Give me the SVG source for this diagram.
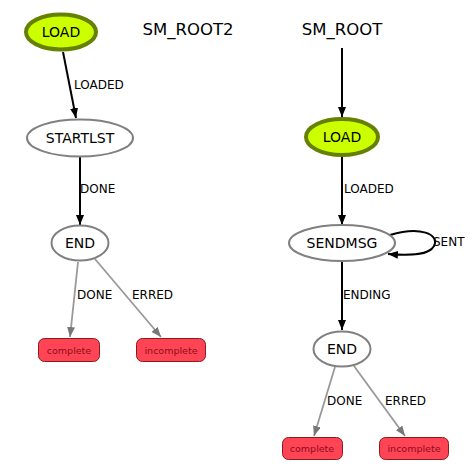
<svg xmlns="http://www.w3.org/2000/svg" width="474" height="475" viewBox="0 0 474 475">
<defs>
<style>
text{font-family:"DejaVu Sans","Liberation Sans",sans-serif;text-anchor:middle;fill:#000}
.title{font-size:16.5px}
.nl{font-size:14px}
.el{font-size:12px;text-anchor:start}
.fl{font-size:9.5px;fill:#8b0f1a}
.load{fill:#ccff00;stroke:#668000;stroke-width:4}
.st{fill:#fff;stroke:#808080;stroke-width:2}
.fin{fill:#ff4455;stroke:#8b1a1a;stroke-width:1}
.e{fill:none;stroke:#000;stroke-width:2}
.g{fill:none;stroke:#999;stroke-width:1.8}
</style>
<marker id="ab" viewBox="0 0 10 8" refX="10" refY="4" markerWidth="10" markerHeight="8" markerUnits="userSpaceOnUse" orient="auto"><path d="M0,0L10,4L0,8z" fill="#000"/></marker>
<marker id="ag" viewBox="0 0 10 8" refX="10" refY="4" markerWidth="10" markerHeight="8" markerUnits="userSpaceOnUse" orient="auto"><path d="M0,0L10,4L0,8z" fill="#777"/></marker>
</defs>
<g id="connectors">
<path class="e" d="M63,52L76,118" marker-end="url(#ab)"/>
<path class="e" d="M80,157L80,225" marker-end="url(#ab)"/>
<path class="g" d="M78,262L70,337" marker-end="url(#ag)"/>
<path class="g" d="M95,259L161,337" marker-end="url(#ag)"/>
<path class="e" d="M342,48L342,117" marker-end="url(#ab)"/>
<path class="e" d="M342,157L342,225" marker-end="url(#ab)"/>
<path class="e" d="M390,235C420,226 440,234 434,246C429,255 412,256 388,254" marker-end="url(#ab)"/>
<path class="e" d="M342,262L342,330" marker-end="url(#ab)"/>
<path class="g" d="M335,367L314,436" marker-end="url(#ag)"/>
<path class="g" d="M354,366L405,436" marker-end="url(#ag)"/>
<text class="el" x="74" y="89">LOADED</text>
<text class="el" x="80" y="193">DONE</text>
<text class="el" x="77" y="299">DONE</text>
<text class="el" x="132" y="299">ERRED</text>
<text class="el" x="344" y="193">LOADED</text>
<text class="el" x="433" y="246">SENT</text>
<text class="el" x="343" y="299">ENDING</text>
<text class="el" x="327" y="405">DONE</text>
<text class="el" x="385" y="405">ERRED</text>
</g>
<g id="title2"><text class="title" x="188" y="35">SM_ROOT2</text></g>
<g id="title1"><text class="title" x="342" y="35">SM_ROOT</text></g>
<g id="load2"><ellipse class="load" cx="61" cy="32" rx="35" ry="17.5"/><text class="nl" x="61" y="37">LOAD</text></g>
<g id="startlst"><ellipse class="st" cx="80" cy="138" rx="53" ry="18.5"/><text class="nl" x="80" y="143">STARTLST</text></g>
<g id="end2"><ellipse class="st" cx="80" cy="243" rx="28.5" ry="17.5"/><text class="nl" x="80" y="248">END</text></g>
<g id="complete2"><rect class="fin" x="38.5" y="338.5" width="61" height="23" rx="6"/><text class="fl" x="69" y="353.5">complete</text></g>
<g id="incomplete2"><rect class="fin" x="136.5" y="338.5" width="69" height="23" rx="6"/><text class="fl" x="171" y="353.5">incomplete</text></g>
<g id="load1"><ellipse class="load" cx="342" cy="137" rx="36" ry="18"/><text class="nl" x="342" y="142">LOAD</text></g>
<g id="sendmsg"><ellipse class="st" cx="342" cy="243" rx="53" ry="18"/><text class="nl" x="342" y="248">SENDMSG</text></g>
<g id="end1"><ellipse class="st" cx="342" cy="349" rx="28.5" ry="17.5"/><text class="nl" x="342" y="354">END</text></g>
<g id="complete1"><rect class="fin" x="282.5" y="437.5" width="60" height="22" rx="6"/><text class="fl" x="312" y="452">complete</text></g>
<g id="incomplete1"><rect class="fin" x="379.5" y="437.5" width="69" height="22" rx="6"/><text class="fl" x="414" y="452">incomplete</text></g>
</svg>
